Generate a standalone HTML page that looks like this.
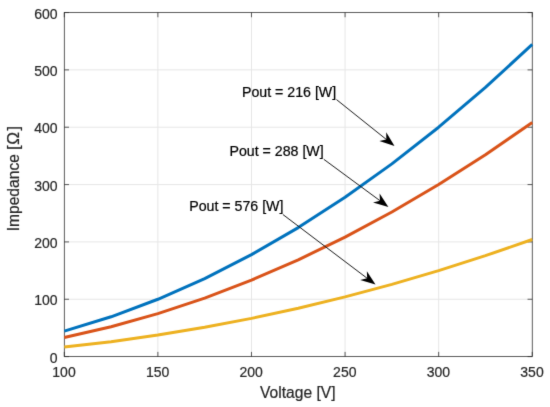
<!DOCTYPE html>
<html><head><meta charset="utf-8"><title>Impedance vs Voltage</title>
<style>html,body{margin:0;padding:0;background:#fff;width:550px;height:407px;overflow:hidden}svg{display:block}</style>
</head><body><svg width="550" height="407" viewBox="0 0 550 407"><defs><filter id="b" x="0" y="0" width="550" height="407" filterUnits="userSpaceOnUse" color-interpolation-filters="sRGB"><feConvolveMatrix order="3" kernelMatrix="0.0100 0.0800 0.0100 0.0800 0.6400 0.0800 0.0100 0.0800 0.0100" divisor="1" edgeMode="duplicate" preserveAlpha="false"/></filter></defs><g filter="url(#b)"><rect x="0" y="0" width="550" height="407" fill="#fff"/><path d="M157.89 12.55V356.6M251.48 12.55V356.6M345.07 12.55V356.6M438.66 12.55V356.6M64.3 299.26H532.25M64.3 241.92H532.25M64.3 184.58H532.25M64.3 127.23H532.25M64.3 69.89H532.25" stroke="#e6e6e6" stroke-width="1" fill="none"/><rect x="64.3" y="12.55" width="467.95" height="344.05" fill="none" stroke="#262626" stroke-width="0.75"/><path d="M64.30 356.6v-4.7M64.30 12.55v4.7M157.89 356.6v-4.7M157.89 12.55v4.7M251.48 356.6v-4.7M251.48 12.55v4.7M345.07 356.6v-4.7M345.07 12.55v4.7M438.66 356.6v-4.7M438.66 12.55v4.7M532.25 356.6v-4.7M532.25 12.55v4.7M64.3 356.60h4.7M532.25 356.60h-4.7M64.3 299.26h4.7M532.25 299.26h-4.7M64.3 241.92h4.7M532.25 241.92h-4.7M64.3 184.58h4.7M532.25 184.58h-4.7M64.3 127.23h4.7M532.25 127.23h-4.7M64.3 69.89h4.7M532.25 69.89h-4.7M64.3 12.55h4.7M532.25 12.55h-4.7" stroke="#262626" stroke-width="0.75" fill="none"/><polyline points="64.30,331.11 111.09,316.78 157.89,299.26 204.69,278.55 251.48,254.66 298.27,227.58 345.07,197.32 391.87,163.87 438.66,127.23 485.45,87.41 532.25,44.41" fill="none" stroke="#0072BD" stroke-width="3.0" stroke-linejoin="round" stroke-linecap="butt"/><polyline points="64.30,337.49 111.09,326.73 157.89,313.59 204.69,298.06 251.48,280.14 298.27,259.84 345.07,237.14 391.87,212.05 438.66,184.58 485.45,154.71 532.25,122.45" fill="none" stroke="#D95319" stroke-width="3.0" stroke-linejoin="round" stroke-linecap="butt"/><polyline points="64.30,347.04 111.09,341.67 157.89,335.10 204.69,327.33 251.48,318.37 298.27,308.22 345.07,296.87 391.87,284.33 438.66,270.59 485.45,255.65 532.25,239.53" fill="none" stroke="#EDB120" stroke-width="3.0" stroke-linejoin="round" stroke-linecap="butt"/><g font-family='"Liberation Sans", Arial, Helvetica, sans-serif' font-size="14" fill="#262626" stroke="#262626" stroke-width="0.2"><text x="64.00" y="377" text-anchor="middle">100</text><text x="157.60" y="377" text-anchor="middle">150</text><text x="251.20" y="377" text-anchor="middle">200</text><text x="344.80" y="377" text-anchor="middle">250</text><text x="438.40" y="377" text-anchor="middle">300</text><text x="532.00" y="377" text-anchor="middle">350</text><text x="57.6" y="362.60" text-anchor="end">0</text><text x="57.6" y="305.27" text-anchor="end">100</text><text x="57.6" y="247.93" text-anchor="end">200</text><text x="57.6" y="190.60" text-anchor="end">300</text><text x="57.6" y="133.27" text-anchor="end">400</text><text x="57.6" y="75.93" text-anchor="end">500</text><text x="57.6" y="18.60" text-anchor="end">600</text></g><text x="297.8" y="398.3" text-anchor="middle" font-family='"Liberation Sans", Arial, Helvetica, sans-serif' font-size="15.6" fill="#262626" stroke="#262626" stroke-width="0.2">Voltage [V]</text><g transform="translate(19.1 231.3) rotate(-90)" font-family='"Liberation Sans", Arial, Helvetica, sans-serif' font-size="15.6" fill="#262626" stroke="#262626" stroke-width="0.2"><text x="0" y="0">Impedance [</text><text transform="translate(86.65 0) scale(1.1 1)">Ω</text><text x="100.71" y="0">]</text></g><text x="241.95" y="96.5" font-family='"Liberation Sans", Arial, Helvetica, sans-serif' font-size="14.2" fill="#000" stroke="#000" stroke-width="0.2">Pout = 216 [W]</text><line x1="336.5" y1="99.6" x2="387.47" y2="140.38" stroke="#1a1a1a" stroke-width="1.0"/><polygon points="394.5,146.0 379.35,140.92 386.30,139.44 386.22,132.33" fill="#000"/><text x="229.45" y="156.0" font-family='"Liberation Sans", Arial, Helvetica, sans-serif' font-size="14.2" fill="#000" stroke="#000" stroke-width="0.2">Pout = 288 [W]</text><line x1="323.8" y1="159.3" x2="381.15" y2="201.56" stroke="#1a1a1a" stroke-width="1.0"/><polygon points="388.4,206.9 373.06,202.43 379.95,200.67 379.59,193.57" fill="#000"/><text x="189.2" y="211.4" font-family='"Liberation Sans", Arial, Helvetica, sans-serif' font-size="14.2" fill="#000" stroke="#000" stroke-width="0.2">Pout = 576 [W]</text><line x1="282.9" y1="214.5" x2="368.32" y2="279.17" stroke="#1a1a1a" stroke-width="1.0"/><polygon points="375.5,284.6 360.22,279.93 367.13,278.26 366.86,271.16" fill="#000"/></g></svg></body></html>
